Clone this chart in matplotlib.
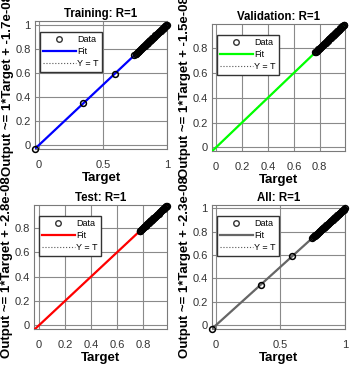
import matplotlib
matplotlib.use("Agg")
import matplotlib.pyplot as plt
from matplotlib.lines import Line2D

plt.rcParams['font.family'] = ['Liberation Sans', 'DejaVu Sans']

# ---- data ----
titles = ["Training: R=1", "Validation: R=1", "Test: R=1", "All: R=1"]
ylabels = ["Output ~= 1*Target + -1.7e-08", "Output ~= 1*Target + -1.5e-08",
           "Output ~= 1*Target + -2.8e-08", "Output ~= 1*Target + -2.3e-08"]
fit_slope = [1.0, 1.0, 1.0, 1.0]
fit_intercept = [-1.7e-08, -1.5e-08, -2.8e-08, -2.3e-08]
fit_colors = ["#0000ff", "#00ff00", "#ff0000", "#666666"]

train_target = [-0.03, 0.345, 0.592, 0.745,
                0.755, 0.76, 0.765, 0.77, 0.775, 0.78, 0.785, 0.79, 0.795, 0.80,
                0.805, 0.81, 0.815, 0.82, 0.825, 0.83, 0.835, 0.84, 0.845, 0.85,
                0.855, 0.86, 0.865, 0.87, 0.875, 0.88, 0.885, 0.89, 0.895, 0.90,
                0.905, 0.91, 0.915, 0.92, 0.925, 0.93, 0.935, 0.94, 0.945, 0.95,
                0.955, 0.96, 0.965, 0.97, 0.975, 0.98, 0.985, 0.99, 0.995, 1.00]
train_output = train_target
val_target = [0.765, 0.77, 0.775, 0.78, 0.785, 0.79, 0.795, 0.80,
              0.805, 0.81, 0.815, 0.82, 0.825, 0.83, 0.835, 0.84, 0.845, 0.85,
              0.855, 0.86, 0.865, 0.87, 0.875, 0.88, 0.885, 0.89, 0.895, 0.90,
              0.905, 0.91, 0.915, 0.92, 0.925, 0.93, 0.935, 0.94, 0.945, 0.95,
              0.955, 0.96, 0.965, 0.97, 0.975, 0.98, 0.985, 0.99]
val_output = val_target
test_target = [0.775, 0.78, 0.785, 0.79, 0.795, 0.80,
               0.805, 0.81, 0.815, 0.82, 0.825, 0.83, 0.835, 0.84, 0.845, 0.85,
               0.855, 0.86, 0.865, 0.87, 0.875, 0.88, 0.885, 0.89, 0.895, 0.90,
               0.905, 0.91, 0.915, 0.92, 0.925, 0.93, 0.935, 0.94, 0.945, 0.95,
               0.955, 0.96, 0.965, 0.97, 0.975, 0.98, 0.985]
test_output = test_target
all_target = [-0.03, 0.345, 0.592, 0.745,
              0.755, 0.76, 0.765, 0.77, 0.775, 0.78, 0.785, 0.79, 0.795, 0.80,
              0.805, 0.81, 0.815, 0.82, 0.825, 0.83, 0.835, 0.84, 0.845, 0.85,
              0.855, 0.86, 0.865, 0.87, 0.875, 0.88, 0.885, 0.89, 0.895, 0.90,
              0.905, 0.91, 0.915, 0.92, 0.925, 0.93, 0.935, 0.94, 0.945, 0.95,
              0.955, 0.96, 0.965, 0.97, 0.975, 0.98, 0.985, 0.99, 0.995, 1.00]
all_output = all_target

targets = [train_target, val_target, test_target, all_target]
outputs = [train_output, val_output, test_output, all_output]

xlims = [(-0.031, 1.0), (-0.032, 0.995), (-0.038, 0.985), (-0.031, 1.0)]
ylims = [(-0.033, 1.03), (-0.03, 0.995), (-0.03, 0.99), (-0.033, 1.03)]
xticks = [[0, 0.5, 1], [0, 0.2, 0.4, 0.6, 0.8], [0, 0.2, 0.4, 0.6, 0.8], [0, 0.5, 1]]
xticklabels = [["0", "0.5", "1"], ["0", "0.2", "0.4", "0.6", "0.8"],
               ["0", "0.2", "0.4", "0.6", "0.8"], ["0", "0.5", "1"]]
yticks = [[0, 0.2, 0.4, 0.6, 0.8, 1], [0, 0.2, 0.4, 0.6, 0.8],
          [0, 0.2, 0.4, 0.6, 0.8], [0, 0.2, 0.4, 0.6, 0.8, 1]]
yticklabels = [["0", "0.2", "0.4", "0.6", "0.8", "1"], ["0", "0.2", "0.4", "0.6", "0.8"],
               ["0", "0.2", "0.4", "0.6", "0.8"], ["0", "0.2", "0.4", "0.6", "0.8", "1"]]

# ---- layout ----
W, H = 350, 365
fig = plt.figure(figsize=(W / 100, H / 100), dpi=100)
boxes = [(35, 21, 167, 149), (212, 24, 345, 151), (34, 205, 167, 329), (212, 205, 345, 329)]

grid_c = "#8a8a8a"
for i in range(4):
    l, t, r, b = boxes[i]
    ax = fig.add_axes([l / W, 1 - b / H, (r - l) / W, (b - t) / H])
    ax.set_xlim(*xlims[i])
    ax.set_ylim(*ylims[i])
    ax.set_xticks(xticks[i])
    ax.set_xticklabels(xticklabels[i])
    ax.set_yticks(yticks[i])
    ax.set_yticklabels(yticklabels[i])
    ax.grid(True, color=grid_c, lw=0.8)
    ax.set_axisbelow(True)
    for s in ax.spines.values():
        s.set_color("#7a7a7a")
        s.set_linewidth(0.8)
    ax.tick_params(length=0, labelsize=8, labelcolor="#333333")
    ax.tick_params(axis='x', pad=8)
    ax.tick_params(axis='y', pad=3)

    x0, x1 = xlims[i]
    # Y = T line
    ax.plot([x0, x1], [x0, x1], ls=":", color="#555555", lw=0.8, zorder=2)
    # Fit line
    ax.plot([x0, x1], [fit_slope[i] * x0 + fit_intercept[i], fit_slope[i] * x1 + fit_intercept[i]],
            color=fit_colors[i], lw=1.6, zorder=3)
    # Data
    ax.plot(targets[i], outputs[i], ls="none", marker="o", ms=4.2, mfc="none",
            mec="black", mew=1.1, zorder=4, clip_on=False)

    ax.set_title(titles[i], fontsize=8.3, fontweight="bold", pad=3)
    ax.set_xlabel("Target", fontsize=9.5, fontweight="bold")
    ax.xaxis.set_label_coords(0.5, -23 / (b - t))
    ax.set_ylabel(ylabels[i], fontsize=9.5, fontweight="bold")
    ax.yaxis.set_label_coords(-21 / (r - l), 0.5)

    handles = [Line2D([], [], ls="none", marker="o", ms=4, mfc="none", mec="#333333", mew=1.0),
               Line2D([], [], color=fit_colors[i], lw=1.6),
               Line2D([], [], color="#555555", ls=":", lw=0.8)]
    leg = ax.legend(handles, ["Data", "Fit", "Y = T"], loc="upper left",
                    bbox_to_anchor=(5 / (r - l), 1 - 11 / (b - t)), borderaxespad=0,
                    fontsize=6.5, handlelength=3.6, handletextpad=0.15, labelspacing=0.35,
                    borderpad=0.35, fancybox=False, framealpha=1, edgecolor="#333333")
    leg.get_frame().set_linewidth(1.0)

fig.savefig("out.png", dpi=100)
